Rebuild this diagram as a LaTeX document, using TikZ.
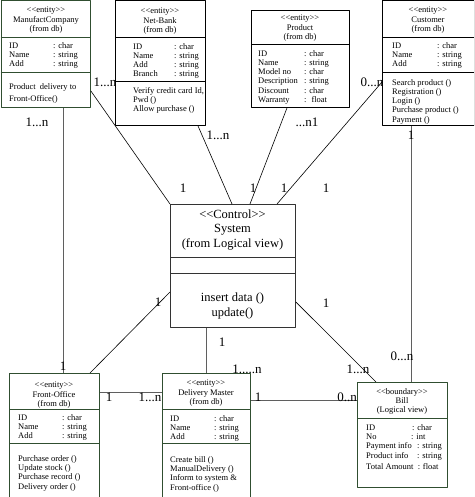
\documentclass[tikz,border=0pt]{standalone}
\usepackage{fontspec}
\setmainfont{Liberation Serif}
\usetikzlibrary{calc}

\definecolor{xanhdam}{RGB}{48,78,48}
\definecolor{xamdam}{RGB}{95,95,95}

\tikzset{
	lop/.style={draw=black, line width=.9pt, fill=white, inner sep=0pt, anchor=north west},
	lopx/.style={lop, draw=xanhdam},
	dau/.style={inner sep=0pt, align=center, anchor=north},
	than/.style={inner sep=0pt, align=left, anchor=north west},
	nhan/.style={inner sep=0pt, font=\fontsize{13}{13}\selectfont},
	day/.style={black, line width=.6pt},
	dayx/.style={xamdam, line width=.9pt}
}
\def\truong#1#2#3{\makebox[#1pt][l]{#2}: #3}
\def\khoi#1{<{}<#1>{}>}

\begin{document}
\begin{tikzpicture}[x=1pt,y=-1pt,line join=round,font=\fontsize{8.5}{9.3}\selectfont]
	%\draw[gray!50] (0,0) grid[step=50] (474,497);
	\useasboundingbox (0,0) rectangle (474,497);
	\clip (0,0) rectangle (474,497);
	
	% cac lop
	\node[lopx, minimum width=89.5pt, minimum height=106.5pt] (mfc) at (0.5,0.5) {};
	\node[lop, minimum width=90pt, minimum height=124.5pt] (nb) at (115,0.5) {};
	\node[lop, minimum width=98pt, minimum height=97pt] (prod) at (251,10) {};
	\node[lop, minimum width=91.5pt, minimum height=124.5pt] (cust) at (382,0.5) {};
	\node[lop, draw=black!80, minimum width=125pt, minimum height=123pt] (sys) at (170,204) {};
	\node[lopx, minimum width=90pt, minimum height=130pt] (fo) at (9,373) {};
	\node[lopx, minimum width=88pt, minimum height=130pt] (dm) at (162,373) {};
	\node[lopx, minimum width=90pt, minimum height=105pt] (bill) at (357,382) {};
	
	\draw[xanhdam, line width=.9pt] (mfc.west |- 0,37) -- (mfc.east |- 0,37) (mfc.west |- 0,72) -- (mfc.east |- 0,72);
	\draw[line width=.9pt] (nb.west |- 0,37) -- (nb.east |- 0,37) (nb.west |- 0,81) -- (nb.east |- 0,81);
	\draw[line width=.9pt] (prod.west |- 0,44) -- (prod.east |- 0,44);
	\draw[line width=.9pt] (cust.west |- 0,37) -- (cust.east |- 0,37) (cust.west |- 0,72) -- (cust.east |- 0,72);
	\draw[black!80, line width=.9pt] (sys.west |- 0,257) -- (sys.east |- 0,257) (sys.west |- 0,273) -- (sys.east |- 0,273);
	\draw[xanhdam, line width=.9pt] (fo.west |- 0,409) -- (fo.east |- 0,409) (fo.west |- 0,443) -- (fo.east |- 0,443);
	\draw[xanhdam, line width=.9pt] (dm.west |- 0,409) -- (dm.east |- 0,409) (dm.west |- 0,443) -- (dm.east |- 0,443);
	\draw[xanhdam, line width=.9pt] (bill.west |- 0,418) -- (bill.east |- 0,418);
	
	% chu trong lop
	\node[dau] (mfc-t) at (46,7) {\khoi{entity}\\ManufactCompany\\(from db)};
	\node[than] (mfc-a) at (9,42) {\truong{44}{ID}{char}\\\truong{44}{Name}{string}\\\truong{44}{Add}{string}};
	\node[than, font=\fontsize{8.5}{12}\selectfont] (mfc-m) at (9,83) {Product\ \ delivery to\\Front-Office()};
	
	\node[dau] (nb-t) at (160,8) {\khoi{entity}\\Net-Bank\\(from db)};
	\node[than] (nb-a) at (133,43) {\truong{41}{ID}{char}\\\truong{41}{Name}{string}\\\truong{41}{Add}{string}\\\truong{41}{Branch}{string}};
	\node[than] (nb-m) at (133,87) {Verify credit card Id,\\Pwd ()\\Allow purchase ()};
	
	\node[dau] (prod-t) at (300,15) {\khoi{entity}\\Product\\(from db)};
	\node[than] (prod-a) at (258,50) {\truong{46}{ID}{char}\\\truong{46}{Name}{string}\\\truong{46}{Model no}{char}\\\truong{46}{Description}{string}\\\truong{46}{Discount}{char}\\\truong{46}{Warranty}{\ float}};
	
	\node[dau] (cust-t) at (428,7) {\khoi{entity}\\Customer\\(from db)};
	\node[than] (cust-a) at (392,42) {\truong{45}{ID}{char}\\\truong{45}{Name}{string}\\\truong{45}{Add}{string}};
	\node[than] (cust-m) at (392,79) {Search product ()\\Registration ()\\Login ()\\Purchase product ()\\Payment ()};
	
	\node[dau, font=\fontsize{12.5}{14.5}\selectfont] (sys-t) at (232.5,209.5) {\khoi{Control}\\System\\(from Logical view)};
	\node[dau, font=\fontsize{12.5}{15}\selectfont] (sys-m) at (232.5,292.5) {insert data ()\\update()};
	
	\node[dau] (fo-t) at (54,382) {\khoi{entity}\\Front-Office\\(from db)};
	\node[than] (fo-a) at (18,414) {\truong{44}{ID}{char}\\\truong{44}{Name}{string}\\\truong{44}{Add}{string}};
	\node[than] (fo-m) at (18,455) {Purchase order ()\\Update stock ()\\Purchase record ()\\Delivery order ()};
	
	\node[dau] (dm-t) at (206,380) {\khoi{entity}\\Delivery Master\\(from db)};
	\node[than] (dm-a) at (170,415) {\truong{44}{ID}{char}\\\truong{44}{Name}{string}\\\truong{44}{Add}{string}};
	\node[than] (dm-m) at (170,456) {Create bill ()\\ManualDelivery ()\\Inform to system \&\\Front-office ()};
	
	\node[dau] (bill-t) at (402,388) {\khoi{boundary}\\Bill\\(Logical view)};
	\node[than] (bill-a) at (366,424) {\truong{46}{ID}{char}\\\truong{45}{No}{int}\\\truong{51}{Payment info}{string}\\\truong{51}{Product info}{string}\\[2pt]Total Amount\ \ : float};
	
	% duong noi
	\draw[day] (mfc.east |- 0,91) -- (sys.north west);
	\draw[day] (nb.south -| 198,0) -- (sys.north -| 232,0);
	\draw[day] (prod.south -| 287,0) -- (sys.north -| 250,0);
	\draw[day] (cust.west |- 0,82) -- (sys.north -| 277,0);
	\draw[dayx] (mfc.south -| 63,0) -- (fo.north -| 63,0);
	\draw[dayx] (cust.south -| 411,0) -- (bill.north -| 411,0);
	\draw[day] (fo.north -| 90,0) -- (sys.west |- 0,292);
	\draw[dayx] (sys.south -| 206,0) -- (dm.north -| 206,0);
	\draw[day] (sys.east |- 0,302) -- (bill.north -| 376,0);
	\draw[dayx] (fo.east |- 0,392) -- (dm.west |- 0,392);
	\draw[dayx] (dm.east |- 0,400) -- (bill.west |- 0,400);
	
	% nhan
	\node[nhan] (n1) at (37,122) {1...n};
	\node[nhan] (n2) at (63,366) {1};
	\node[nhan] (n3) at (105,82) {1...n};
	\node[nhan] (n4) at (183,188) {1};
	\node[nhan] (n5) at (218,135) {1...n};
	\node[nhan] (n6) at (253,188) {1};
	\node[nhan] (n7) at (284,188) {1};
	\node[nhan] (n8) at (307,122) {...n1};
	\node[nhan] (n9) at (372,82) {0...n};
	\node[nhan] (n10) at (326,188) {1};
	\node[nhan] (n11) at (411,135) {1};
	\node[nhan] (n12) at (402,356) {0...n};
	\node[nhan] (n13) at (158,302) {1};
	\node[nhan] (n14) at (222,342) {1};
	\node[nhan] (n15) at (247,369) {1.....n};
	\node[nhan] (n16) at (326,303) {1};
	\node[nhan] (n17) at (358,369) {1...n};
	\node[nhan] (n18) at (109,397) {1};
	\node[nhan] (n19) at (150,397) {1...n};
	\node[nhan] (n20) at (258,397) {1};
	\node[nhan, anchor=east] (n21) at (357,397) {0..n};
\end{tikzpicture}
\end{document}
